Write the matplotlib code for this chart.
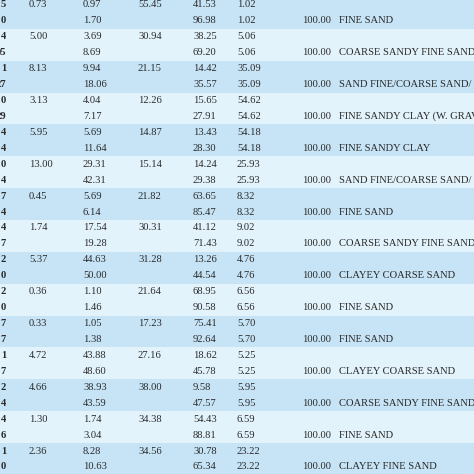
import matplotlib
matplotlib.use("Agg")
import matplotlib.pyplot as plt
from matplotlib.patches import Rectangle

stub = ["5","0","4","05","1","27","0","29","4","4","0","4","7","4","4","7",
        "2","0","2","0","7","7","1","7","2","4","4","6","1","0"]
col1 = ["0.73","","5.00","","8.13","","3.13","","5.95","","13.00","","0.45","","1.74","",
        "5.37","","0.36","","0.33","","4.72","","4.66","","1.30","","2.36",""]
col2 = ["0.97","1.70","3.69","8.69","9.94","18.06","4.04","7.17","5.69","11.64","29.31","42.31",
        "5.69","6.14","17.54","19.28","44.63","50.00","1.10","1.46","1.05","1.38","43.88","48.60",
        "38.93","43.59","1.74","3.04","8.28","10.63"]
col3 = ["55.45","","30.94","","21.15","","12.26","","14.87","","15.14","","21.82","","30.31","",
        "31.28","","21.64","","17.23","","27.16","","38.00","","34.38","","34.56",""]
col4 = ["41.53","96.98","38.25","69.20","14.42","35.57","15.65","27.91","13.43","28.30","14.24","29.38",
        "63.65","85.47","41.12","71.43","13.26","44.54","68.95","90.58","75.41","92.64","18.62","45.78",
        "9.58","47.57","54.43","88.81","30.78","65.34"]
col5 = ["1.02","1.02","5.06","5.06","35.09","35.09","54.62","54.62","54.18","54.18","25.93","25.93",
        "8.32","8.32","9.02","9.02","4.76","4.76","6.56","6.56","5.70","5.70","5.25","5.25",
        "5.95","5.95","6.59","6.59","23.22","23.22"]
col6 = ["" if i % 2 == 0 else "100.00" for i in range(30)]
col7 = ["","FINE SAND","","COARSE SANDY FINE SAND","","SAND FINE/COARSE SAND/",
        "","FINE SANDY CLAY (W. GRAVEL)","","FINE SANDY CLAY","","SAND FINE/COARSE SAND/",
        "","FINE SAND","","COARSE SANDY FINE SAND","","CLAYEY COARSE SAND","","FINE SAND",
        "","FINE SAND","","CLAYEY COARSE SAND","","COARSE SANDY FINE SAND","","FINE SAND",
        "","CLAYEY FINE SAND"]

W = H = 474
fig = plt.figure(figsize=(4.74, 4.74), dpi=100)
ax = fig.add_axes([0, 0, 1, 1])
ax.set_xlim(0, W)
ax.set_ylim(H, 0)
ax.axis("off")

rh = 15.93
y0 = -3.0
dark, light = "#c6e4f6", "#e3f3fb"
for i in range(30):
    c = dark if (i // 2) % 2 == 0 else light
    ax.add_patch(Rectangle((0, y0 + i * rh), W, rh, color=c, lw=0))

font = dict(family=["Liberation Serif", "DejaVu Serif"], fontsize=7.6, color="#2a2a2a", va="center")
cols = [(col1, 29), (col2, 83), (col3, 138), (col4, 193), (col5, 237), (col6, 302), (col7, 339)]
for i in range(30):
    y = y0 + (i + 0.5) * rh
    ax.text(6, y, stub[i], ha="right", fontweight="bold", clip_on=True, **font)
    for arr, x in cols:
        if arr[i]:
            ax.text(x, y, arr[i], ha="left", clip_on=True, **font)

fig.savefig("out.png", dpi=100)
